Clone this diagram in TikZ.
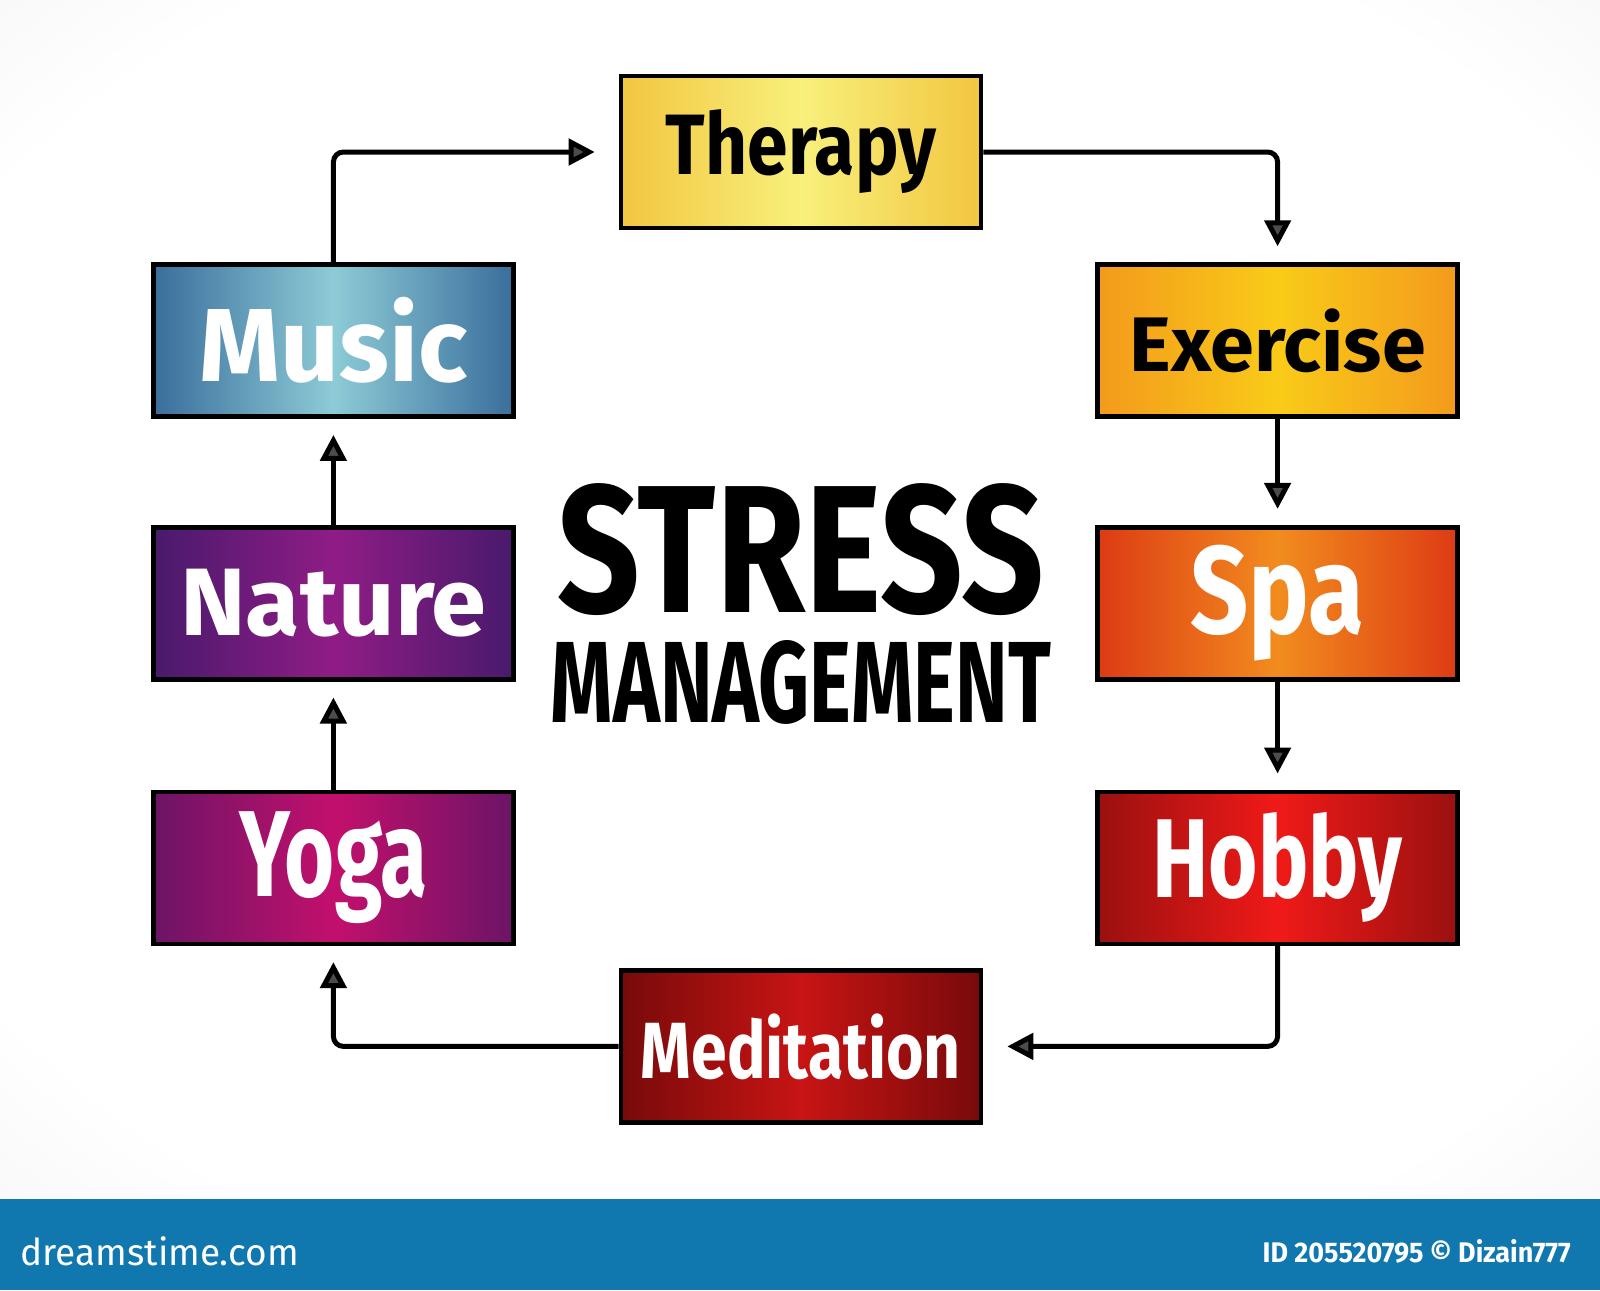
\documentclass[tikz,border=0pt]{standalone}
\usepackage{fontspec}
\setmainfont{Fira Sans}
\usepackage{graphicx}
\usetikzlibrary{positioning,arrows.meta}

\definecolor{therapyedge}{HTML}{F2C640}
\definecolor{therapymid}{HTML}{F8F07C}
\definecolor{musicedge}{HTML}{3A6E9C}
\definecolor{musicmid}{HTML}{8DCBD6}
\definecolor{exerciseedge}{HTML}{F39A1C}
\definecolor{exercisemid}{HTML}{F9CB18}
\definecolor{natureedge}{HTML}{481A6C}
\definecolor{naturemid}{HTML}{901C86}
\definecolor{spaedge}{HTML}{DD3B14}
\definecolor{spamid}{HTML}{F28C1E}
\definecolor{yogaedge}{HTML}{6C1466}
\definecolor{yogamid}{HTML}{C2106C}
\definecolor{hobbyedge}{HTML}{9A1010}
\definecolor{hobbymid}{HTML}{F01A18}
\definecolor{meditedge}{HTML}{780A0A}
\definecolor{meditmid}{HTML}{C81414}
\definecolor{barblue}{HTML}{1077AF}

\pgfdeclareradialshading{paper}{\pgfpoint{0bp}{0bp}}%
  {color(0bp)=(white); color(30bp)=(white); color(50bp)=(black!9); color(72bp)=(black!15)}

\newcommand{\hand}[3]{\resizebox*{#1}{#2}{#3}}

\begin{document}
\begin{tikzpicture}
        [ x = .5pt, y = -.5pt
        , box/.style =
          { draw, line width=2.3pt, minimum width=180pt, minimum height=76pt
          , inner sep=0pt, font=\bfseries }
        , tint/.style 2 args =
          { left color=#1, right color=#1, middle color=#2 }
        , light/.style =
          { text=white }
        , title/.style =
          { inner sep=0pt, font=\bfseries }
        , flow/.style =
          { line width=2.5pt, rounded corners=5pt, shorten >=8pt
          , -{Triangle[length=13pt,width=13pt,fill=black!70]} }
        , far/.style =
          { shorten >=12pt }
        ]
        \useasboundingbox (0,0) rectangle (1600,1290);
        \path [shading=paper] (0,0) rectangle (1600,1199);
        \fill [barblue] (0,1199) rectangle (1600,1290);

        \node [box,tint={therapyedge}{therapymid}] (therapy) at (801,152) {\hand{135pt}{42pt}{Therapy}};
        \node [box,tint={musicedge}{musicmid},light] (music) [below left=16pt and 51.5pt of therapy] {\hand{134pt}{43pt}{Music}};
        \node [box,tint={exerciseedge}{exercisemid}] (exercise) [below right=16pt and 56pt of therapy] {\hand{148pt}{32pt}{Exercise}};
        \node [box,tint={natureedge}{naturemid},light] (nature) [below=53pt of music] {\hand{153pt}{34pt}{Nature}};
        \node [box,tint={spaedge}{spamid},light] (spa) [below=53pt of exercise] {\hand{87pt}{58pt}{Spa}};
        \node [box,tint={yogaedge}{yogamid},light] (yoga) [below=54pt of nature] {\hand{94pt}{56pt}{Yoga}};
        \node [box,tint={hobbyedge}{hobbymid},light] (hobby) [below=54pt of spa] {\hand{125pt}{55pt}{Hobby}};
        \node [box,tint={meditedge}{meditmid},light] (meditation) [below right=11pt and 51.5pt of yoga] {\hand{160pt}{33pt}{Meditation}};

        \node [title] (stress) at (801,550) {\hand{243pt}{66pt}{STRESS}};
        \node [title] (mgmt) [below=12pt of stress] {\hand{250pt}{42pt}{MANAGEMENT}};

        \draw [flow,far] (music.north) |- (therapy.west);
        \draw [flow] (therapy.east) -| (exercise.north);
        \draw [flow] (exercise) -- (spa);
        \draw [flow] (spa) -- (hobby);
        \draw [flow,far] (hobby.south) |- (meditation.east);
        \draw [flow] (meditation.west) -| (yoga.south);
        \draw [flow] (yoga) -- (nature);
        \draw [flow] (nature) -- (music);

        \node [anchor=west,inner sep=0pt,light] (site) at (20,1251) {\fontsize{18.5}{18.5}\selectfont dreamstime.com};
        \node [anchor=east,inner sep=0pt,light] (credit) at (1571,1251) {\resizebox{154pt}{11.5pt}{\bfseries ID 205520795 © Dizain777}};
      \end{tikzpicture}
\end{document}
